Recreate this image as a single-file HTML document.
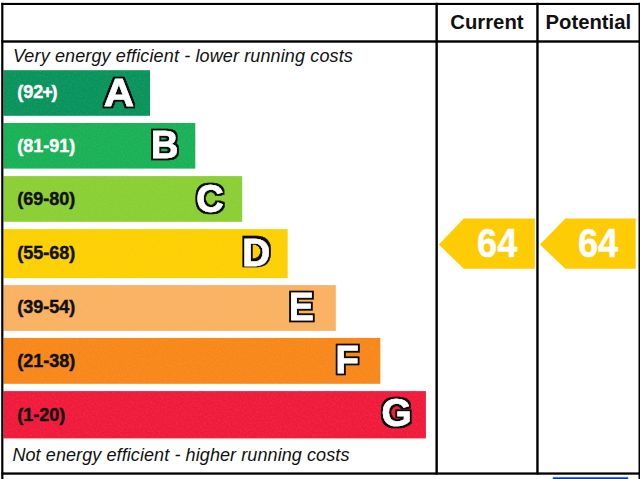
<!DOCTYPE html>
<html>
<head>
<meta charset="utf-8">
<title>Energy Efficiency Rating</title>
<style>
html,body{margin:0;padding:0;background:#fff;}
body{width:640px;height:479px;overflow:hidden;}
svg{display:block;filter:blur(0.4px);}
text{font-family:"Liberation Sans",sans-serif;}
.rng{font-weight:bold;font-size:18px;stroke-width:0.45;}
.hd{font-weight:bold;font-size:20.3px;fill:#111;}
.it{font-style:italic;font-size:18px;fill:#111;}
.lt{font-weight:bold;font-size:39.6px;fill:#fff;stroke:#fff;stroke-width:0.5;stroke-linejoin:round;text-anchor:middle;}
.num{font-weight:bold;font-size:41.3px;fill:#fff;stroke:#fff;stroke-width:0.5;text-anchor:middle;}
</style>
</head>
<body>
<svg width="640" height="479" viewBox="0 0 640 479">
 <rect width="640" height="479" fill="#fff"/>
 <defs>
  <filter id="grain" x="0" y="0" width="100%" height="100%">
   <feTurbulence type="fractalNoise" baseFrequency="0.55" numOctaves="2" seed="7" result="n"/>
   <feColorMatrix type="matrix" values="0 0 0 0 1  0 0 0 0 1  0 0 0 0 1  1.6 0 0 0 -0.55"/>
  </filter>
  <filter id="ol" x="-5%" y="-5%" width="110%" height="110%">
   <feMorphology in="SourceAlpha" operator="dilate" radius="1.55" result="d"/>
   <feGaussianBlur in="d" stdDeviation="0.35" result="db"/>
   <feFlood flood-color="#0a0a0a"/>
   <feComposite in2="db" operator="in" result="o"/>
   <feMerge><feMergeNode in="o"/><feMergeNode in="SourceGraphic"/></feMerge>
  </filter>
  <filter id="olD" x="-20%" y="-20%" width="140%" height="140%">
   <feMorphology in="SourceAlpha" operator="dilate" radius="1.5" result="d"/>
   <feOffset in="d" dx="-0.4" dy="-0.9" result="do"/>
   <feGaussianBlur in="do" stdDeviation="0.35" result="db"/>
   <feFlood flood-color="#0a0a0a"/>
   <feComposite in2="db" operator="in" result="o"/>
   <feMerge><feMergeNode in="o"/><feMergeNode in="SourceGraphic"/></feMerge>
  </filter>
  <clipPath id="bands">
   <rect x="3.4" y="70.2" width="146.6" height="45.6"/>
   <rect x="3.4" y="123" width="191.9" height="45.6"/>
   <rect x="3.4" y="176.1" width="238.8" height="45.7"/>
   <rect x="3.4" y="229.1" width="284.3" height="49.0"/>
   <rect x="3.4" y="285.1" width="332.4" height="45.8"/>
   <rect x="3.4" y="337.9" width="376.9" height="45.9"/>
   <rect x="3.4" y="391.1" width="422.5" height="47.3"/>
  </clipPath>
 </defs>

 <!-- rating bands -->
 <rect x="3.4" y="70.2" width="146.6" height="45.6" fill="#08935b"/>
 <rect x="3.4" y="123" width="191.9" height="45.6" fill="#18b155"/>
 <rect x="3.4" y="176.1" width="238.8" height="45.7" fill="#8acf34"/>
 <rect x="3.4" y="229.1" width="284.3" height="49.0" fill="#fdd000"/>
 <rect x="3.4" y="285.1" width="332.4" height="45.8" fill="#fab161"/>
 <rect x="3.4" y="337.9" width="376.9" height="45.9" fill="#f78719"/>
 <rect x="3.4" y="391.1" width="422.5" height="47.3" fill="#f0193a"/>

 <g clip-path="url(#bands)" opacity="0.09">
  <rect x="0" y="66" width="430" height="376" fill="#fff" filter="url(#grain)"/>
 </g>

 <!-- frame -->
 <g fill="#000">
  <rect x="1.3" y="2.9" width="638.7" height="2.1"/>
  <rect x="1.2" y="2.8" width="2.2" height="476.2"/>
  <rect x="638.5" y="2.8" width="1.5" height="476.2"/>
  <rect x="1.3" y="40.3" width="638.7" height="2.4"/>
  <rect x="435.45" y="2.8" width="2.4" height="471.7"/>
  <rect x="536.25" y="2.8" width="2.4" height="471.7"/>
  <rect x="1.3" y="472.4" width="638.7" height="2.3"/>
 </g>
 <rect x="552.8" y="476.8" width="75.4" height="0.8" fill="#a9bbe2"/>
 <rect x="552.8" y="477.4" width="75.4" height="1.6" fill="#12369c"/>

 <!-- headers -->
 <text class="hd" x="450.3" y="29.2">Current</text>
 <text class="hd" x="545.5" y="29.2">Potential</text>

 <!-- captions -->
 <text class="it" x="12.9" y="61.8" textLength="339.9" lengthAdjust="spacing">Very energy efficient - lower running costs</text>
 <text class="it" x="12.4" y="460.6" textLength="337" lengthAdjust="spacing">Not energy efficient - higher running costs</text>

 <!-- ranges -->
 <text class="rng" x="17.2" y="98"    fill="#fff" stroke="#fff">(92<tspan dx="-1">+</tspan><tspan dx="-1.2">)</tspan></text>
 <text class="rng" x="17.2" y="151.6" fill="#fff" stroke="#fff">(81-91)</text>
 <text class="rng" x="17.2" y="205.4" fill="#111" stroke="#111">(69-80)</text>
 <text class="rng" x="17.2" y="259.4" fill="#111" stroke="#111">(55-68)</text>
 <text class="rng" x="17.2" y="313"   fill="#111" stroke="#111">(39-54)</text>
 <text class="rng" x="17.2" y="367"   fill="#111" stroke="#111">(21-38)</text>
 <text class="rng" x="17.2" y="420.6" fill="#111" stroke="#111">(1-20)</text>

 <!-- band letters -->
 <g class="lt" filter="url(#ol)">
  <text transform="translate(119 105.8) scale(1.06 1)">A</text>
  <text transform="translate(164.6 158.4) scale(0.97 1)">B</text>
  <text transform="translate(210 211.7) scale(0.96 1)">C</text>
  <text transform="translate(301.3 319.9) scale(0.95 1)">E</text>
  <text transform="translate(347.2 373.1) scale(0.97 1)">F</text>
  <text transform="translate(396.6 426.3) scale(0.98 1)">G</text>
 </g>
 <g class="lt" filter="url(#olD)">
  <text transform="translate(256.2 266.1) scale(0.98 1)">D</text>
 </g>

 <!-- current / potential arrows -->
 <polygon points="438.9,244.6 463.8,218.6 534.8,218.6 534.8,268.8 463.8,268.8" fill="#fdcc04"/>
 <polygon points="540,244.6 565.3,218.6 635.7,218.6 635.7,268.8 565.3,268.8" fill="#fdcc04"/>
 <text class="num" transform="translate(497.2 257.4) scale(0.875 1)">64</text>
 <text class="num" transform="translate(598.1 257.4) scale(0.875 1)">64</text>
</svg>
</body>
</html>
